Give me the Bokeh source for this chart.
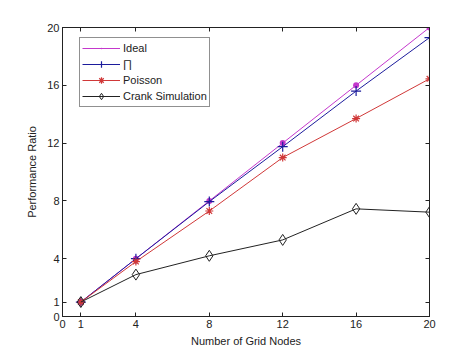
from bokeh.plotting import figure
from bokeh.models import LinearAxis, FixedTicker, Range1d, Legend, LegendItem
from bokeh.embed import file_html
from bokeh.resources import INLINE

nodes = [1, 4, 8, 12, 16, 20]
ideal = [1, 4, 8, 12, 16, 20]
pi_vals = [1, 4.0, 7.95, 11.75, 15.6, 19.3]
poisson = [1, 3.8, 7.3, 11.0, 13.7, 16.45]
crank = [1, 2.9, 4.2, 5.3, 7.45, 7.22]
ticks = [0, 1, 4, 8, 12, 16, 20]

FONT = "Liberation Sans"
TXT = "#222222"

p = figure(width=474, height=355, frame_width=367, frame_height=289,
           min_border_left=62, min_border_right=45, min_border_top=27, min_border_bottom=39,
           output_backend="svg", toolbar_location=None,
           x_range=Range1d(0, 20), y_range=Range1d(0, 20),
           x_axis_label="Number of Grid Nodes", y_axis_label="Performance Ratio")
p.xgrid.visible = False
p.ygrid.visible = False
p.outline_line_color = "#222222"
p.background_fill_color = "white"
p.border_fill_color = "white"

for ax in [p.xaxis[0], p.yaxis[0]]:
    ax.ticker = FixedTicker(ticks=ticks)
    ax.minor_tick_line_color = None
    ax.major_tick_in = 4
    ax.major_tick_out = 0
    ax.major_label_text_font = FONT
    ax.major_label_text_font_size = "11px"
    ax.major_label_text_color = TXT
    ax.axis_label_text_font = FONT
    ax.axis_label_text_font_size = "11px"
    ax.axis_label_text_font_style = "normal"
    ax.axis_label_text_color = TXT
    ax.axis_line_color = "#222222"
    ax.major_tick_line_color = "#222222"
    ax.major_label_standoff = 3
    ax.axis_label_standoff = 4
p.yaxis[0].axis_label_standoff = 6

for loc in ["above", "right"]:
    ax = LinearAxis(ticker=FixedTicker(ticks=ticks))
    ax.minor_tick_line_color = None
    ax.major_tick_in = 4
    ax.major_tick_out = 0
    ax.major_label_text_color = None
    ax.axis_line_color = "#222222"
    ax.major_tick_line_color = "#222222"
    p.add_layout(ax, loc)

c_ideal = "#c438cc"
c_pi = "#1c1c9c"
c_poi = "#d03838"
c_cr = "#222222"

l1 = p.line(nodes, ideal, line_color=c_ideal, line_width=1)
m1 = p.scatter(nodes, ideal, marker="dot", size=24, line_color=c_ideal, fill_color=c_ideal, line_width=1.5)
l2 = p.line(nodes, pi_vals, line_color=c_pi, line_width=1)
m2 = p.scatter(nodes, pi_vals, marker="cross", size=10, line_color=c_pi, line_width=1.2)
l3 = p.line(nodes, poisson, line_color=c_poi, line_width=1)
m3 = p.scatter(nodes, poisson, marker="asterisk", size=8, line_color=c_poi, line_width=1.2)
l4 = p.line(nodes, crank, line_color=c_cr, line_width=1)
m4 = p.scatter(nodes, crank, marker="diamond", size=11, line_color=c_cr, fill_color=None, line_width=1)

legend = Legend(items=[
    LegendItem(label="Ideal", renderers=[l1, m1]),
    LegendItem(label="\u220f", renderers=[l2, m2]),
    LegendItem(label="Poisson", renderers=[l3, m3]),
    LegendItem(label="Crank Simulation", renderers=[l4, m4]),
], location=(17, 209))
legend.label_text_font = FONT
legend.label_text_font_size = "11px"
legend.label_text_color = TXT
legend.glyph_width = 38
legend.glyph_height = 16
legend.label_height = 16
legend.label_standoff = 3
legend.spacing = 0
legend.padding = 2
legend.margin = 0
legend.border_line_color = "#222222"
legend.border_line_width = 1
legend.background_fill_alpha = 1
p.add_layout(legend, "center")

open("out.html", "w").write(file_html(p, INLINE))
